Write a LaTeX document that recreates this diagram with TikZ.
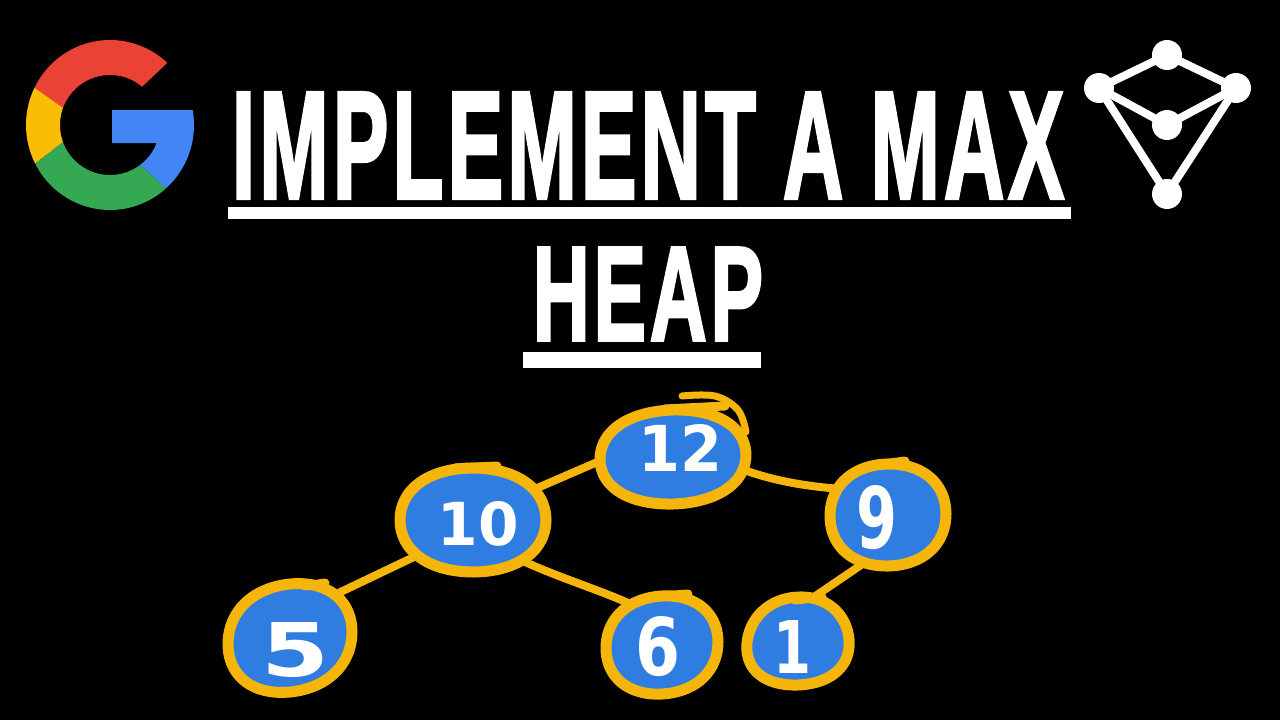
\documentclass[tikz,border=0pt]{standalone}
\usepackage{fontspec}
\usepackage{graphicx}
\setmainfont{Liberation Sans}
\newfontfamily\digitfont{DejaVu Sans}
\newfontfamily\titlefont[FakeBold=2.6,LetterSpace=5]{Liberation Sans Bold}
\usetikzlibrary{shapes.geometric}
\pgfdeclarelayer{under}
\pgfsetlayers{under,main}
\definecolor{gred}{HTML}{EA4335}
\definecolor{gyellow}{HTML}{FBBC05}
\definecolor{ggreen}{HTML}{34A853}
\definecolor{gblue}{HTML}{4285F4}
\definecolor{heapblue}{HTML}{2F7DE1}
\definecolor{heapgold}{HTML}{F5B50A}
\newcommand{\gseg}[5]{\fill[#1] plot[domain=#2:#3,samples=40] ({110+84*cos(\x)},{125+85*sin(\x)}) -- plot[domain=#5:#4,samples=40] ({110+50*cos(\x)},{125+50*sin(\x)}) -- cycle;}
\newcommand{\boxedtext}[3]{\resizebox{#1pt}{#2pt}{\titlefont #3}}
\newcommand{\digits}[3]{\resizebox{#1pt}{#2pt}{\digitfont\bfseries #3}}
% centre x, centre y, half width, half height, tilt, egg
\newcommand{\heapblob}[6]{\draw[blob] plot[smooth cycle,domain=0:350,samples=36] ({#1+#3*cos(\x)*(1+#6*sin(\x))*(1.012-.012*cos(4*\x))},{#2+#4*sin(\x)*(1.012-.012*cos(4*\x))+#5*cos(\x)});}
\tikzset{
  x=1pt,y=-1pt,
  titletext/.style={inner sep=0,text=white},
  rulebar/.style={fill=white},
  logodot/.style={circle,fill=white,inner sep=0,minimum size=30pt},
  logoedge/.style={draw=white,line width=8pt},
  heapnode/.style={ellipse,inner sep=0,minimum width=#1},
  digitlabel/.style={inner sep=0,text=white},
  blob/.style={draw=heapgold,fill=heapblue,line width=11pt,line join=round},
  heapedge/.style={draw=heapgold,line width=8pt,line cap=round},
  scribble/.style={draw=heapgold,line width=9pt,line cap=round},
}
\begin{document}
\begin{tikzpicture}
\useasboundingbox (0,0) rectangle (1280,720);
\begin{pgfonlayer}{under}
\fill[black] (0,0) rectangle (1280,720);
\end{pgfonlayer}
% Google logo
\gseg{gred}{-154}{-47}{-160}{-50}
\gseg{gyellow}{153}{206}{160}{200}
\gseg{ggreen}{48}{153}{53}{160}
\fill[gblue] plot[domain=48:-10,samples=40] ({110+84*cos(\x)},{125+85*sin(\x)}) -- (112,110) -- (112,143) -- (157,143) -- plot[domain=21:53,samples=20] ({110+50*cos(\x)},{125+50*sin(\x)}) -- cycle;
% Title
\node[titletext] (title1) at (648,145.5) {\boxedtext{832}{105}{IMPLEMENT A MAX}};
\fill[rulebar] (228,207) rectangle (1071,219);
\node[titletext] (title2) at (648,294) {\boxedtext{230}{92}{HEAP}};
\fill[rulebar] (523,352) rectangle (761,368);
% Graph logo
\node[logodot] (ltop) at (1167,55) {};
\node[logodot] (lleft) at (1099,88) {};
\node[logodot] (lright) at (1236,88) {};
\node[logodot] (lmid) at (1167,125) {};
\node[logodot] (lbot) at (1167,194) {};
\draw[logoedge] (ltop.center) -- (lleft.center);
\draw[logoedge] (ltop.center) -- (lright.center);
\draw[logoedge] (lleft.center) -- (lmid.center);
\draw[logoedge] (lright.center) -- (lmid.center);
\draw[logoedge] (lleft.center) -- (lbot.center);
\draw[logoedge] (lright.center) -- (lbot.center);
% Heap nodes
\node[heapnode=150pt,minimum height=100pt] (n12) at (673,455) {};
\node[heapnode=150pt,minimum height=105pt] (n10) at (473,523) {};
\node[heapnode=122pt,minimum height=105pt] (n9) at (888,518) {};
\node[heapnode=128pt,minimum height=110pt] (n5) at (290,642) {};
\node[heapnode=118pt,minimum height=105pt] (n6) at (660,652) {};
\node[heapnode=108pt,minimum height=95pt] (n1) at (795,640) {};
\node[digitlabel] (t12) at (680,448) {\digits{84}{47}{12}};
\node[digitlabel] (t10) at (478,524) {\digits{81}{44}{10}};
\node[digitlabel] (t9) at (877,518) {\digits{41}{63}{9}};
\node[digitlabel] (t5) at (296,650) {\digits{68}{54}{5}};
\node[digitlabel] (t6) at (658,647) {\digits{45}{59}{6}};
\node[digitlabel] (t1) at (792,647) {\digits{38}{53}{1}};
\begin{pgfonlayer}{under}
\draw[heapedge] (n12.185) -- (n10.29);
\draw[heapedge] (n12.-12) .. controls (775,481) and (805,486) .. (n9.150);
\draw[heapedge] (n10.210) -- (n5.49);
\draw[heapedge] (n10.-37) .. controls (560,578) and (600,590) .. (n6.120);
\draw[heapedge] (n9.240) -- (n1.65);
\heapblob{673}{457}{73}{47}{-2}{0}
\draw[scribble,line width=7pt] plot[smooth,tension=.6] coordinates {(682,396) (715,396) (738,410) (746,432)};
\draw[scribble] (665,409) -- (725,406);
\heapblob{473}{520}{73}{52}{0}{0}
\draw[scribble] (455,468) -- (497,466);
\heapblob{888}{515}{58}{51}{-1}{0}
\draw[scribble] (882,464) -- (905,461);
\heapblob{290}{638}{62}{54}{-6}{0}
\draw[scribble] (305,586) -- (325,583);
\heapblob{662}{645}{56}{49}{-3}{0}
\draw[scribble] (660,596) -- (688,594);
\heapblob{798}{641}{51}{44}{-2}{.08}
\draw[scribble] (795,600) -- (822,597);
\end{pgfonlayer}
\end{tikzpicture}
\end{document}
